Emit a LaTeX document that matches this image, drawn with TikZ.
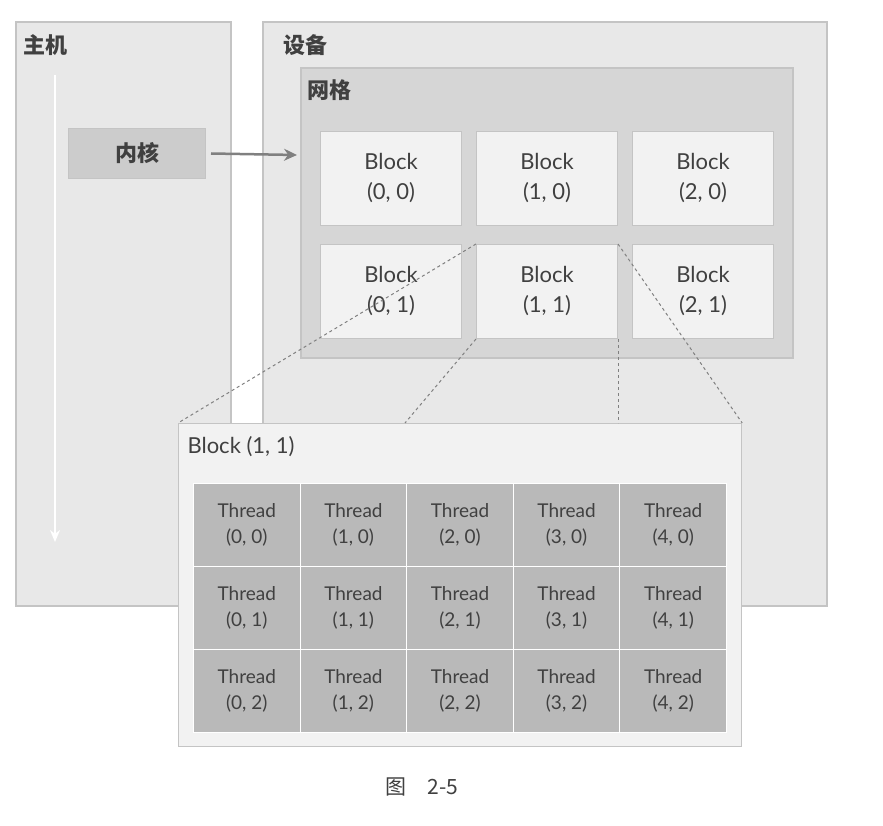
\documentclass[tikz,border=0pt]{standalone}
\usepackage{fontspec}
\setmainfont{Lato}
\newfontfamily\cjk{Noto Sans CJK SC}
\usetikzlibrary{arrows.meta,calc}
\definecolor{txt}{HTML}{404040}
\definecolor{bord}{HTML}{C4C4C4}
\begin{document}
\begin{tikzpicture}[x=1pt,y=-1pt,
  panel/.style={draw=bord,line width=1.2pt,fill=#1},
  blk/.style={draw=bord,line width=1pt,fill=#1,minimum width=141pt,minimum height=94pt,anchor=north west,align=center,text=txt,font=\fontsize{22}{30}\selectfont},
  thr/.style={draw=white,line width=1pt,fill=gray!55,minimum width=106.6pt,minimum height=83pt,anchor=north west,align=center,text=txt,font=\fontsize{19}{26}\selectfont,inner sep=0pt},
  dsh/.style={dashed,gray,line width=1pt},
  lbl/.style={anchor=west,text=txt,font=\cjk\bfseries\fontsize{22}{24}\selectfont}]
\useasboundingbox[fill=white] (0,0) rectangle (883,826);
\draw[panel=gray!18] (16,22) rectangle (231,606);
\draw[panel=gray!18] (263,22) rectangle (827,606);
\node[lbl] (host) at (20,45) {主机};
\node[lbl] (dev) at (280,45) {设备};
\coordinate (h1) at (55,75); \coordinate (h2) at (55,542);
\draw[white,line width=2.5pt,-{Stealth[length=12pt,width=10pt]}] (h1) -- (h2);
\node[draw=bord,line width=1pt,fill=gray!40,minimum width=137pt,minimum height=50pt,anchor=north west,text=txt,font=\cjk\bfseries\fontsize{22}{24}\selectfont] (kern) at (68,128) {内核};
\draw[panel=gray!32] (301,68) rectangle (793,358);
\node[lbl] (grid) at (304,90) {网格};
\coordinate (ga) at (297,155);
\draw[gray,line width=2.5pt,-{Stealth[length=13pt,width=12pt]}] ($(kern.east)+(5,0)$) -- (ga);
\foreach \c/\x in {0/320,1/476,2/632}{
 \foreach \r/\y in {0/131,1/244}{
  \node[blk=gray!10] (b\c\r) at (\x,\y) {Block\\(\c, \r)};
 }}
\node[draw=bord,line width=1.2pt,fill=gray!10,minimum width=563pt,minimum height=323pt,anchor=north west] (big) at (178,423) {};
\node[anchor=west,text=txt,font=\fontsize{22}{26}\selectfont] (bt) at (184,447) {Block (1, 1)};
\foreach \c in {0,...,4}{
 \foreach \r in {0,1,2}{
  \node[thr] (t\c\r) at ({193+106.6*\c},{483+83*\r}) {Thread\\(\c, \r)};
 }}
\draw[dsh] (b11.north west) -- (big.north west);
\draw[dsh] (b11.south west) -- ($(big.north west)+(227,0)$);
\draw[dsh] (b11.south east) -- (b11.south east |- big.north);
\draw[dsh] (b11.north east) -- (big.north east);
\node[text=txt,font=\cjk\fontsize{21}{24}\selectfont] (cap) at (422,787) {图\quad 2-5};
\end{tikzpicture}
\end{document}
